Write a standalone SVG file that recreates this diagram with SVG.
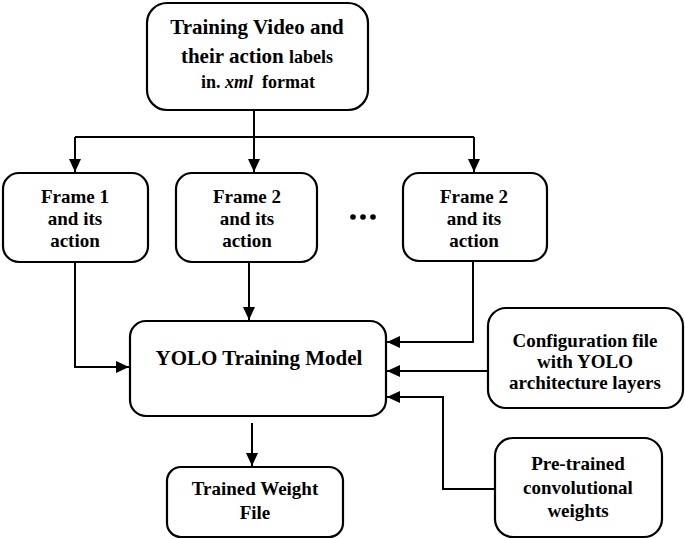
<svg xmlns="http://www.w3.org/2000/svg" width="685" height="539" viewBox="0 0 685 539">
<style>
.box{fill:#fff;stroke:#000;stroke-width:2.2}
.t{font-family:"Liberation Serif","Times New Roman",serif;font-weight:bold;font-size:19px;fill:#000;text-anchor:middle}
.c{fill:none;stroke:#000;stroke-width:2}
</style>
<defs>
<marker id="ah" markerUnits="userSpaceOnUse" markerWidth="14" markerHeight="12" refX="13" refY="6" orient="auto">
<path d="M0,0 L13,6 L0,12 Z" fill="#000"/>
</marker>
</defs>
<rect width="685" height="539" fill="#fff"/>
<g id="connectors">
<path class="c" d="M254 110 V172" marker-end="url(#ah)"/>
<path class="c" d="M75 137 H474"/>
<path class="c" d="M75 137 V172" marker-end="url(#ah)"/>
<path class="c" d="M474 137 V172" marker-end="url(#ah)"/>
<path class="c" d="M75 262 V367 H129" marker-end="url(#ah)"/>
<path class="c" d="M249 262 V320" marker-end="url(#ah)"/>
<path class="c" d="M473 261 V342 H387" marker-end="url(#ah)"/>
<path class="c" d="M488 371 H387" marker-end="url(#ah)"/>
<path class="c" d="M495 489 H443 V397 H387" marker-end="url(#ah)"/>
<path class="c" d="M252 423 V466" marker-end="url(#ah)"/>
</g>
<g id="training-video">
<rect class="box" x="147" y="3" width="221" height="107" rx="20"/>
<text class="t" x="257" y="34" style="font-size:21px">Training Video and</text>
<text class="t" x="257" y="63" style="font-size:21px">their action <tspan style="font-size:18px">labels</tspan></text>
<text class="t" x="258" y="88" style="font-size:18px">in. <tspan font-style="italic">xml</tspan><tspan dx="9">format</tspan></text>
</g>
<g id="frame1">
<rect class="box" x="3" y="173" width="145" height="89" rx="16"/>
<text class="t" x="75" y="203">Frame 1</text>
<text class="t" x="75" y="225">and its</text>
<text class="t" x="75" y="247">action</text>
</g>
<g id="frame2">
<rect class="box" x="176" y="173" width="141" height="89" rx="16"/>
<text class="t" x="247" y="203">Frame 2</text>
<text class="t" x="247" y="225">and its</text>
<text class="t" x="247" y="247">action</text>
</g>
<g id="ellipsis">
<circle cx="353" cy="217" r="2.8" fill="#000"/>
<circle cx="363" cy="217" r="2.8" fill="#000"/>
<circle cx="373" cy="217" r="2.8" fill="#000"/>
</g>
<g id="frame3">
<rect class="box" x="403" y="173" width="144" height="88" rx="16"/>
<text class="t" x="474" y="203">Frame 2</text>
<text class="t" x="474" y="225">and its</text>
<text class="t" x="474" y="247">action</text>
</g>
<g id="yolo">
<rect class="box" x="130" y="321" width="256" height="95" rx="16"/>
<text class="t" x="259" y="365" style="font-size:21px">YOLO Training Model</text>
</g>
<g id="config">
<rect class="box" x="488" y="308" width="195" height="100" rx="18"/>
<text class="t" x="585" y="347">Configuration file</text>
<text class="t" x="585" y="368">with YOLO</text>
<text class="t" x="585" y="389">architecture layers</text>
</g>
<g id="trained">
<rect class="box" x="167" y="467" width="176" height="70" rx="14"/>
<text class="t" x="255" y="495">Trained Weight</text>
<text class="t" x="255" y="519">File</text>
</g>
<g id="pretrained">
<rect class="box" x="495" y="438" width="167" height="99" rx="18"/>
<text class="t" x="578" y="470">Pre-trained</text>
<text class="t" x="578" y="494">convolutional</text>
<text class="t" x="578" y="517">weights</text>
</g>
</svg>
